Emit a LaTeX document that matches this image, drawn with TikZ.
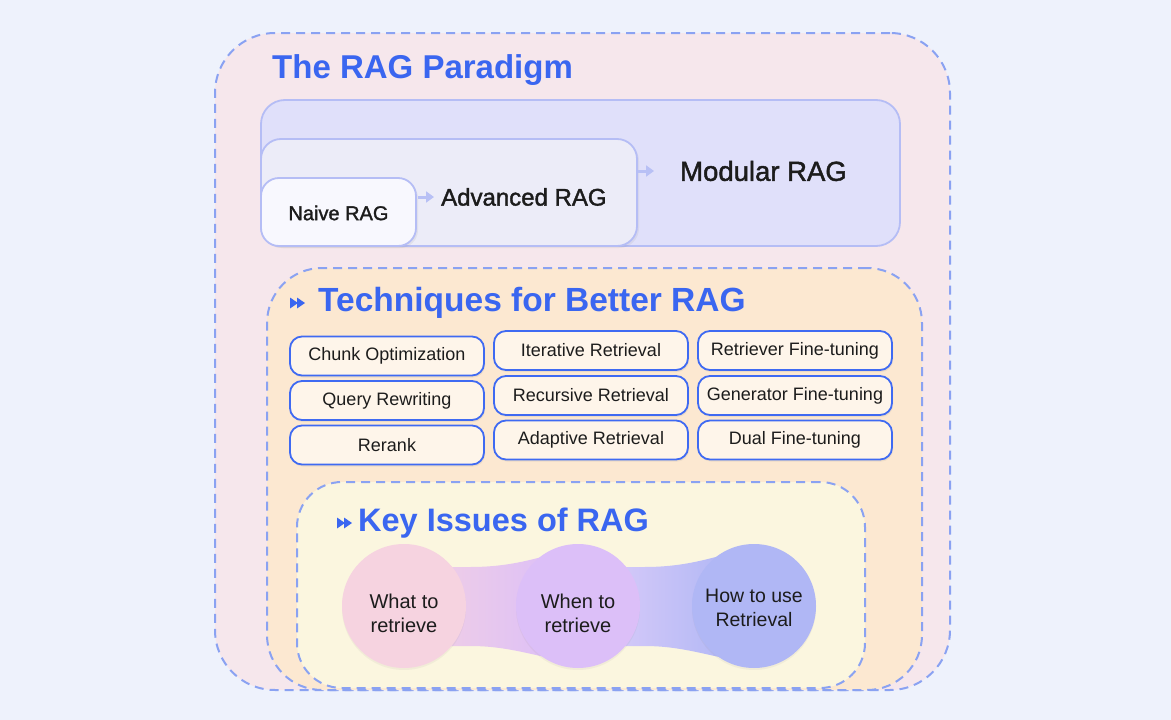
\documentclass[tikz,border=0pt]{standalone}
\usepackage{fontspec}
\setmainfont{Liberation Sans}
\newfontfamily\medfont[FakeBold=1.6]{Liberation Sans}
\usetikzlibrary{arrows.meta,shadows}
\definecolor{bgc}{HTML}{EEF2FC}
\definecolor{outerc}{HTML}{F6E7EC}
\definecolor{dashc}{HTML}{8AA2F2}
\definecolor{modc}{HTML}{E0E0FA}
\definecolor{advc}{HTML}{ECECF8}
\definecolor{naivec}{HTML}{F8F8FE}
\definecolor{pbord}{HTML}{B5BDF5}
\definecolor{techc}{HTML}{FCE8D1}
\definecolor{tboxc}{HTML}{FEF5EA}
\definecolor{tbord}{HTML}{3F6AF2}
\definecolor{keyc}{HTML}{FBF6DF}
\definecolor{titlec}{HTML}{3A66F0}
\definecolor{txtc}{HTML}{1C1C1C}
\definecolor{c1}{HTML}{F6D3E0}
\definecolor{c2}{HTML}{DCBFF8}
\definecolor{c3}{HTML}{B0B7F5}
\definecolor{arrc}{HTML}{B8C0F5}
\tikzset{
  dashbox/.style={draw=dashc, line width=2pt, dash pattern=on 9pt off 6pt},
  parabox/.style={draw=pbord, line width=1.8pt, rounded corners=24pt},
  techbox/.style={draw=tbord, fill=tboxc, line width=1.8pt, rounded corners=12pt,
    minimum width=194pt, minimum height=39pt, text=txtc,
    font=\fontsize{18}{21}\selectfont, drop shadow={opacity=0.12, shadow xshift=1pt, shadow yshift=-2pt}},
  ttl/.style={anchor=west, text=titlec, inner sep=0pt},
  issue/.style={circle, minimum size=124pt, inner sep=0pt, align=center, text=txtc,
    font=\fontsize{20}{24}\selectfont},
  parr/.style={draw=arrc, line width=3pt, -{Triangle[length=8pt,width=11pt]}},
  chev/.style={fill=titlec}
}
\begin{document}
\begin{tikzpicture}[x=1pt,y=-1pt]
\useasboundingbox (0,0) rectangle (1171,720);
\fill[bgc] (0,0) rectangle (1171,720);

% outer paradigm box
\node[dashbox, fill=outerc, rounded corners=60pt, minimum width=735pt, minimum height=657pt] (outer) at (582.5,361.5) {};
\node[ttl, font=\fontsize{33}{37}\selectfont\bfseries] (ttlpar) at (272,70) {The RAG Paradigm};

% modular / advanced / naive
\node[parabox, fill=modc, minimum width=639pt, minimum height=146pt] (modular) at (580.5,173) {};
\node[parabox, fill=advc, rounded corners=20pt, minimum width=376pt, minimum height=107pt,
  drop shadow={opacity=0.10, shadow xshift=2pt, shadow yshift=-2pt}] (advanced) at (449,192.5) {};
\node[parabox, fill=naivec, rounded corners=18pt, minimum width=155pt, minimum height=68pt,
  drop shadow={opacity=0.10, shadow xshift=2pt, shadow yshift=-2pt}] (naive) at (338.5,212) {};
\node[text=txtc, font=\fontsize{20}{24}\medfont] (naivet) at (338.5,213) {Naive RAG};
\node[text=txtc, font=\fontsize{24}{28}\medfont, anchor=west, inner sep=0pt] (advt) at (441,197) {Advanced RAG};
\node[text=txtc, font=\fontsize{27.5}{32}\medfont, anchor=west, inner sep=0pt] (modt) at (680,171) {Modular RAG};
\coordinate (a1) at (418,197);
\coordinate (a2) at (638,171);
\draw[parr, shorten >=7pt] (a1) -- (advt.west);
\draw[parr, shorten >=26pt] (a2) -- (modt.west);

% techniques box
\node[dashbox, fill=techc, rounded corners=55pt, minimum width=655pt, minimum height=422pt] (tech) at (594.5,479) {};
\fill[chev] (290,297.5) -- (298,303) -- (290,308.5) -- cycle;
\fill[chev] (297,297.5) -- (305,303) -- (297,308.5) -- cycle;
\node[ttl, font=\fontsize{33.5}{38}\selectfont\bfseries] (ttltech) at (318,303) {Techniques for Better RAG};

\node[techbox] (t11) at (387,356) {Chunk Optimization};
\node[techbox] (t12) at (387,400.5) {Query Rewriting};
\node[techbox] (t13) at (387,445) {Rerank};
\node[techbox] (t21) at (591,350.5) {Iterative Retrieval};
\node[techbox] (t22) at (591,395.5) {Recursive Retrieval};
\node[techbox] (t23) at (591,440) {Adaptive Retrieval};
\node[techbox] (t31) at (795,350.5) {Retriever Fine-tuning};
\node[techbox] (t32) at (795,395.5) {Generator Fine-tuning};
\node[techbox] (t33) at (795,440) {Dual Fine-tuning};

% key issues box
\node[dashbox, fill=keyc, rounded corners=45pt, minimum width=568pt, minimum height=206pt] (key) at (581,585) {};
\fill[chev] (337,517.5) -- (345,523) -- (337,528.5) -- cycle;
\fill[chev] (344,517.5) -- (352,523) -- (344,528.5) -- cycle;
\node[ttl, font=\fontsize{32.5}{36}\selectfont\bfseries] (ttlkey) at (358,523) {Key Issues of RAG};

% bridges
\shade[left color=c1!70!c2, right color=c2]
  (440,567) -- (470,567) .. controls (505,567) and (528,561) .. (560,552)
  -- (560,660) .. controls (528,654) and (505,646) .. (470,646) -- (440,646) -- cycle;
\shade[left color=c2!60!c3!80!white, right color=c3]
  (614,567) -- (644,567) .. controls (679,567) and (702,561) .. (734,552)
  -- (734,660) .. controls (702,654) and (679,646) .. (644,646) -- (614,646) -- cycle;

\node[issue, fill=c1, drop shadow={opacity=0.08, shadow xshift=0pt, shadow yshift=-2pt}] (i1) at (404,606) {};
\node[issue, fill=c2, drop shadow={opacity=0.08, shadow xshift=0pt, shadow yshift=-2pt}] (i2) at (578,606) {};
\node[issue, fill=c3, drop shadow={opacity=0.08, shadow xshift=0pt, shadow yshift=-2pt}] (i3) at (754,606) {};
\node[align=center, text=txtc, font=\fontsize{20}{24}\selectfont] (i1t) at (404,613) {What to\\retrieve};
\node[align=center, text=txtc, font=\fontsize{20}{24}\selectfont] (i2t) at (578,613) {When to\\retrieve};
\node[align=center, text=txtc, font=\fontsize{19.5}{24}\selectfont] (i3t) at (754,608) {How to use\\Retrieval};
\end{tikzpicture}
\end{document}
